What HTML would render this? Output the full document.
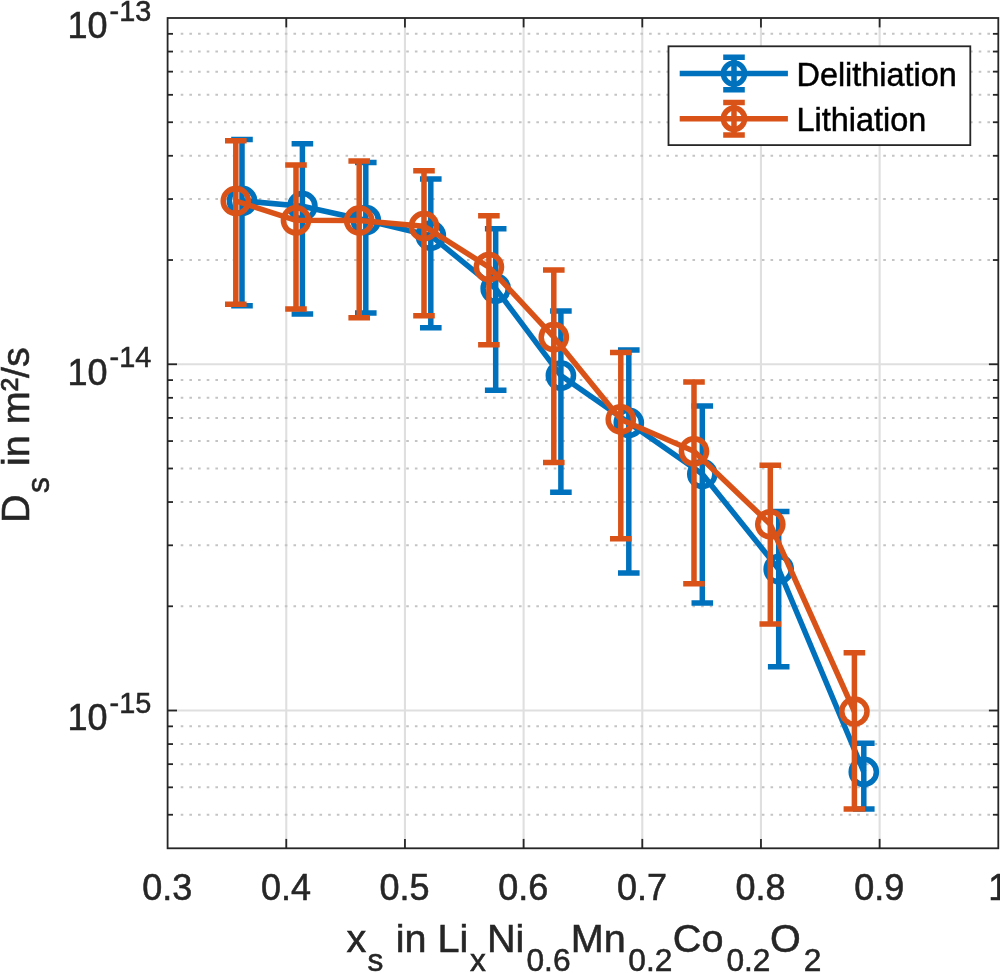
<!DOCTYPE html>
<html lang="en"><head><meta charset="utf-8"><title>Ds vs xs</title>
<style>html,body{margin:0;padding:0;background:#fff}svg{display:block}text{font-family:"Liberation Sans",Arial,Helvetica,sans-serif}</style></head><body>
<svg width="1000" height="973" viewBox="0 0 1000 973">
<rect width="1000" height="973" fill="#fff"/>
<g stroke="#dfdfdf" stroke-width="2.1" fill="none">
<line x1="286.27" y1="18.0" x2="286.27" y2="848.3"/>
<line x1="404.94" y1="18.0" x2="404.94" y2="848.3"/>
<line x1="523.61" y1="18.0" x2="523.61" y2="848.3"/>
<line x1="642.29" y1="18.0" x2="642.29" y2="848.3"/>
<line x1="760.96" y1="18.0" x2="760.96" y2="848.3"/>
<line x1="879.63" y1="18.0" x2="879.63" y2="848.3"/>
<line x1="167.6" y1="364.26" x2="998.3" y2="364.26"/>
<line x1="167.6" y1="710.51" x2="998.3" y2="710.51"/>
</g>
<g stroke="#c4c4c4" stroke-width="2" stroke-dasharray="2.6 6.074" fill="none">
<line x1="180.7" y1="260.02" x2="997.3" y2="260.02"/>
<line x1="180.7" y1="199.05" x2="997.3" y2="199.05"/>
<line x1="180.7" y1="155.79" x2="997.3" y2="155.79"/>
<line x1="180.7" y1="122.23" x2="997.3" y2="122.23"/>
<line x1="180.7" y1="94.82" x2="997.3" y2="94.82"/>
<line x1="180.7" y1="71.64" x2="997.3" y2="71.64"/>
<line x1="180.7" y1="51.56" x2="997.3" y2="51.56"/>
<line x1="180.7" y1="33.84" x2="997.3" y2="33.84"/>
<line x1="180.7" y1="606.28" x2="997.3" y2="606.28"/>
<line x1="180.7" y1="545.31" x2="997.3" y2="545.31"/>
<line x1="180.7" y1="502.04" x2="997.3" y2="502.04"/>
<line x1="180.7" y1="468.49" x2="997.3" y2="468.49"/>
<line x1="180.7" y1="441.07" x2="997.3" y2="441.07"/>
<line x1="180.7" y1="417.89" x2="997.3" y2="417.89"/>
<line x1="180.7" y1="397.81" x2="997.3" y2="397.81"/>
<line x1="180.7" y1="380.10" x2="997.3" y2="380.10"/>
<line x1="180.7" y1="814.74" x2="997.3" y2="814.74"/>
<line x1="180.7" y1="787.33" x2="997.3" y2="787.33"/>
<line x1="180.7" y1="764.15" x2="997.3" y2="764.15"/>
<line x1="180.7" y1="744.07" x2="997.3" y2="744.07"/>
<line x1="180.7" y1="726.35" x2="997.3" y2="726.35"/>
</g>
<g stroke="#262626" stroke-width="1.8" fill="none">
<line x1="286.27" y1="848.3" x2="286.27" y2="838.9"/><line x1="286.27" y1="18.0" x2="286.27" y2="27.4"/>
<line x1="404.94" y1="848.3" x2="404.94" y2="838.9"/><line x1="404.94" y1="18.0" x2="404.94" y2="27.4"/>
<line x1="523.61" y1="848.3" x2="523.61" y2="838.9"/><line x1="523.61" y1="18.0" x2="523.61" y2="27.4"/>
<line x1="642.29" y1="848.3" x2="642.29" y2="838.9"/><line x1="642.29" y1="18.0" x2="642.29" y2="27.4"/>
<line x1="760.96" y1="848.3" x2="760.96" y2="838.9"/><line x1="760.96" y1="18.0" x2="760.96" y2="27.4"/>
<line x1="879.63" y1="848.3" x2="879.63" y2="838.9"/><line x1="879.63" y1="18.0" x2="879.63" y2="27.4"/>
<line x1="167.6" y1="364.26" x2="177.0" y2="364.26"/><line x1="998.3" y1="364.26" x2="988.9" y2="364.26"/>
<line x1="167.6" y1="710.51" x2="177.0" y2="710.51"/><line x1="998.3" y1="710.51" x2="988.9" y2="710.51"/>
<line x1="167.6" y1="260.02" x2="173.0" y2="260.02"/><line x1="998.3" y1="260.02" x2="992.9" y2="260.02"/>
<line x1="167.6" y1="199.05" x2="173.0" y2="199.05"/><line x1="998.3" y1="199.05" x2="992.9" y2="199.05"/>
<line x1="167.6" y1="155.79" x2="173.0" y2="155.79"/><line x1="998.3" y1="155.79" x2="992.9" y2="155.79"/>
<line x1="167.6" y1="122.23" x2="173.0" y2="122.23"/><line x1="998.3" y1="122.23" x2="992.9" y2="122.23"/>
<line x1="167.6" y1="94.82" x2="173.0" y2="94.82"/><line x1="998.3" y1="94.82" x2="992.9" y2="94.82"/>
<line x1="167.6" y1="71.64" x2="173.0" y2="71.64"/><line x1="998.3" y1="71.64" x2="992.9" y2="71.64"/>
<line x1="167.6" y1="51.56" x2="173.0" y2="51.56"/><line x1="998.3" y1="51.56" x2="992.9" y2="51.56"/>
<line x1="167.6" y1="33.84" x2="173.0" y2="33.84"/><line x1="998.3" y1="33.84" x2="992.9" y2="33.84"/>
<line x1="167.6" y1="606.28" x2="173.0" y2="606.28"/><line x1="998.3" y1="606.28" x2="992.9" y2="606.28"/>
<line x1="167.6" y1="545.31" x2="173.0" y2="545.31"/><line x1="998.3" y1="545.31" x2="992.9" y2="545.31"/>
<line x1="167.6" y1="502.04" x2="173.0" y2="502.04"/><line x1="998.3" y1="502.04" x2="992.9" y2="502.04"/>
<line x1="167.6" y1="468.49" x2="173.0" y2="468.49"/><line x1="998.3" y1="468.49" x2="992.9" y2="468.49"/>
<line x1="167.6" y1="441.07" x2="173.0" y2="441.07"/><line x1="998.3" y1="441.07" x2="992.9" y2="441.07"/>
<line x1="167.6" y1="417.89" x2="173.0" y2="417.89"/><line x1="998.3" y1="417.89" x2="992.9" y2="417.89"/>
<line x1="167.6" y1="397.81" x2="173.0" y2="397.81"/><line x1="998.3" y1="397.81" x2="992.9" y2="397.81"/>
<line x1="167.6" y1="380.10" x2="173.0" y2="380.10"/><line x1="998.3" y1="380.10" x2="992.9" y2="380.10"/>
<line x1="167.6" y1="814.74" x2="173.0" y2="814.74"/><line x1="998.3" y1="814.74" x2="992.9" y2="814.74"/>
<line x1="167.6" y1="787.33" x2="173.0" y2="787.33"/><line x1="998.3" y1="787.33" x2="992.9" y2="787.33"/>
<line x1="167.6" y1="764.15" x2="173.0" y2="764.15"/><line x1="998.3" y1="764.15" x2="992.9" y2="764.15"/>
<line x1="167.6" y1="744.07" x2="173.0" y2="744.07"/><line x1="998.3" y1="744.07" x2="992.9" y2="744.07"/>
<line x1="167.6" y1="726.35" x2="173.0" y2="726.35"/><line x1="998.3" y1="726.35" x2="992.9" y2="726.35"/>
<rect x="167.6" y="18.0" width="830.70" height="830.30"/>
</g>
<g stroke="#0072BD" stroke-width="5.5" fill="none" stroke-linejoin="round">
<polyline points="242.0,200.8 302.4,206.2 365.8,220.2 430.8,235.7 495.7,288.6 560.9,375.6 628.8,422.8 702.3,474.0 778.7,569.2 863.8,771.9"/>
<path d="M242.0 139.6V305.7M231.2 139.6H252.8M231.2 305.7H252.8M302.4 143.7V313.9M291.6 143.7H313.2M291.6 313.9H313.2M365.8 162.4V313.0M355.0 162.4H376.6M355.0 313.0H376.6M430.8 179.0V327.7M420.0 179.0H441.6M420.0 327.7H441.6M495.7 228.7V390.3M484.9 228.7H506.5M484.9 390.3H506.5M560.9 311.1V492.3M550.1 311.1H571.7M550.1 492.3H571.7M628.8 350.1V573.0M618.0 350.1H639.6M618.0 573.0H639.6M702.3 406.0V603.0M691.5 406.0H713.1M691.5 603.0H713.1M778.7 511.4V666.8M767.9 511.4H789.5M767.9 666.8H789.5M863.8 743.3V809.0M853.0 743.3H874.6M853.0 809.0H874.6"/>
<circle cx="242.0" cy="200.8" r="12.6"/>
<circle cx="302.4" cy="206.2" r="12.6"/>
<circle cx="365.8" cy="220.2" r="12.6"/>
<circle cx="430.8" cy="235.7" r="12.6"/>
<circle cx="495.7" cy="288.6" r="12.6"/>
<circle cx="560.9" cy="375.6" r="12.6"/>
<circle cx="628.8" cy="422.8" r="12.6"/>
<circle cx="702.3" cy="474.0" r="12.6"/>
<circle cx="778.7" cy="569.2" r="12.6"/>
<circle cx="863.8" cy="771.9" r="12.6"/>
</g>
<g stroke="#D95319" stroke-width="5.5" fill="none" stroke-linejoin="round">
<polyline points="235.8,201.0 296.0,220.3 359.2,220.5 424.0,226.2 488.9,267.1 553.8,337.2 620.8,419.4 694.0,451.3 770.3,524.3 854.4,711.5"/>
<path d="M235.8 140.8V304.3M225.0 140.8H246.6M225.0 304.3H246.6M296.0 165.1V309.0M285.2 165.1H306.8M285.2 309.0H306.8M359.2 161.0V317.8M348.4 161.0H370.0M348.4 317.8H370.0M424.0 170.8V315.8M413.2 170.8H434.8M413.2 315.8H434.8M488.9 215.7V344.7M478.1 215.7H499.7M478.1 344.7H499.7M553.8 269.9V462.5M543.0 269.9H564.6M543.0 462.5H564.6M620.8 352.6V538.8M610.0 352.6H631.6M610.0 538.8H631.6M694.0 382.0V583.7M683.2 382.0H704.8M683.2 583.7H704.8M770.3 465.3V624.0M759.5 465.3H781.1M759.5 624.0H781.1M854.4 652.8V809.0M843.6 652.8H865.2M843.6 809.0H865.2"/>
<circle cx="235.8" cy="201.0" r="12.6"/>
<circle cx="296.0" cy="220.3" r="12.6"/>
<circle cx="359.2" cy="220.5" r="12.6"/>
<circle cx="424.0" cy="226.2" r="12.6"/>
<circle cx="488.9" cy="267.1" r="12.6"/>
<circle cx="553.8" cy="337.2" r="12.6"/>
<circle cx="620.8" cy="419.4" r="12.6"/>
<circle cx="694.0" cy="451.3" r="12.6"/>
<circle cx="770.3" cy="524.3" r="12.6"/>
<circle cx="854.4" cy="711.5" r="12.6"/>
</g>
<rect x="668.5" y="46.3" width="301.8" height="98.8" fill="#fff" stroke="#262626" stroke-width="1.8"/>
<g stroke="#0072BD" stroke-width="5.5" fill="none"><path d="M679.7 73.6H787.9M734.0 57.349999999999994V89.85M723.2 57.349999999999994H744.8M723.2 89.85H744.8"/><circle cx="734.0" cy="73.6" r="10.6"/></g>
<g stroke="#D95319" stroke-width="5.5" fill="none"><path d="M679.7 118.7H787.9M734.0 102.45V134.95M723.2 102.45H744.8M723.2 134.95H744.8"/><circle cx="734.0" cy="118.7" r="10.6"/></g>
<g font-size="32.4" fill="#000" stroke="#000" stroke-width="0.5"><text x="796.5" y="85.8">Delithiation</text><text x="796.5" y="131.2">Lithiation</text></g>
<g font-size="36" fill="#262626" stroke="#262626" stroke-width="0.55" text-anchor="middle">
<text x="167.2" y="900.2">0.3</text>
<text x="285.9" y="900.2">0.4</text>
<text x="404.5" y="900.2">0.5</text>
<text x="523.2" y="900.2">0.6</text>
<text x="641.9" y="900.2">0.7</text>
<text x="760.6" y="900.2">0.8</text>
<text x="879.2" y="900.2">0.9</text>
<text x="998.3" y="900.2">1</text>
</g>
<g fill="#262626" stroke="#262626" stroke-width="0.55">
<text x="67.6" y="38.0" font-size="36">10<tspan font-size="28.8" x="109.6" dy="-17.4">-13</tspan></text>
<text x="67.6" y="385.0" font-size="36">10<tspan font-size="28.8" x="109.6" dy="-18">-14</tspan></text>
<text x="67.6" y="730.0" font-size="36">10<tspan font-size="28.8" x="109.6" dy="-17.5">-15</tspan></text>
</g>
<g fill="#262626" stroke="#262626" stroke-width="0.55">
<text x="346.5" y="952.0" font-size="39.6" xml:space="preserve">x</text>
<text x="367.6" y="971.0" font-size="31.7">s</text>
<text x="384.8" y="952.0" font-size="39.6" xml:space="preserve"> in Li</text>
<text x="470.0" y="971.0" font-size="31.7">x</text>
<text x="487" y="952.0" font-size="39.6" xml:space="preserve">Ni</text>
<text x="526.5" y="971.0" font-size="31.7">0.6</text>
<text x="570.8" y="952.0" font-size="39.6" xml:space="preserve">Mn</text>
<text x="628.3" y="971.0" font-size="31.7">0.2</text>
<text x="672.8" y="952.0" font-size="39.6" xml:space="preserve">Co</text>
<text x="726.4" y="971.0" font-size="31.7">0.2</text>
<text x="770" y="952.0" font-size="39.6" xml:space="preserve">O</text>
<text x="803.8" y="971.0" font-size="31.7">2</text>
</g>
<g fill="#262626" stroke="#262626" stroke-width="0.55" transform="translate(29.4 520) rotate(-90)">
<text x="-3" y="0" font-size="39.6">D</text><text x="27" y="19.2" font-size="31.7">s</text><text x="43" y="0" font-size="39.6" xml:space="preserve"> in m²/s</text>
</g>
</svg></body></html>
